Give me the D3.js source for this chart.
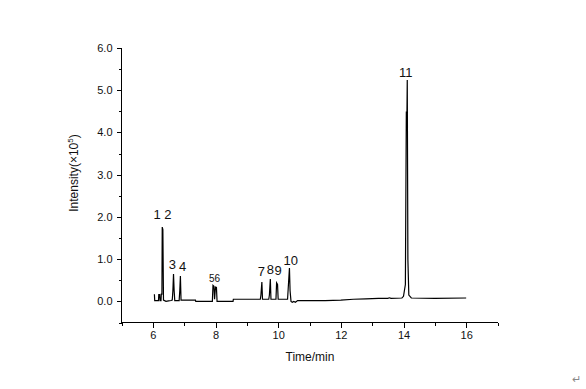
<!DOCTYPE html>
<html lang="en">
<head>
<meta charset="utf-8">
<title>chromatogram</title>
<script type="text/javascript" src="https://cdn.jsdelivr.net/npm/d3@7"></script>
<style type="text/css">
body{ margin:0; background:#fff; }
.axis path,
.axis line{
  stroke: #000;
  stroke-width: 1px;
  shape-rendering: crispEdges;
}
.axis text{
  font-family: "Liberation Sans", Arial, sans-serif;
  font-size: 11px;
  fill: #111;
}
.lbl{
  font-family: "Liberation Sans", Arial, sans-serif;
  fill: #111;
}
</style>
</head>
<body>
<script type="text/javascript">
var w = 586;
var h = 389;

// time (min), intensity (x10^5)
var trace = [
  [6.05, 0.17], [6.06, 0.02], [6.18, 0.02], [6.19, 0.16], [6.22, 0.16], [6.23, 0.02],
  [6.26, 0.02], [6.27, 0.17], [6.29, 0.17], [6.30, 1.76], [6.32, 1.70], [6.34, 0.03],
  [6.42, 0.0], [6.50, 0.01], [6.58, 0.02], [6.62, 0.03], [6.64, 0.25], [6.66, 0.65],
  [6.68, 0.25], [6.70, 0.02], [6.84, 0.02], [6.86, 0.25], [6.88, 0.60], [6.90, 0.03],
  [7.36, 0.03], [7.37, 0.0], [7.90, 0.0], [7.92, 0.38], [7.95, 0.36], [7.97, 0.05],
  [8.00, 0.34], [8.03, 0.33], [8.05, 0.0], [8.56, 0.0], [8.57, 0.05], [9.43, 0.05],
  [9.45, 0.15], [9.48, 0.46], [9.50, 0.05], [9.70, 0.05], [9.72, 0.15], [9.75, 0.53],
  [9.77, 0.05], [9.93, 0.05], [9.95, 0.44], [9.98, 0.40], [10.00, 0.05], [10.30, 0.05],
  [10.32, 0.30], [10.36, 0.79], [10.38, 0.25], [10.41, 0.0], [10.45, -0.02], [10.50, 0.0],
  [10.55, -0.02], [10.62, 0.02], [11.50, 0.02], [12.00, 0.03], [12.40, 0.05], [12.80, 0.06],
  [13.20, 0.07], [13.50, 0.07], [13.55, 0.085], [13.60, 0.07], [13.95, 0.08], [14.00, 0.12],
  [14.06, 0.40], [14.09, 4.48], [14.11, 4.48], [14.12, 5.24], [14.14, 1.00], [14.17, 0.15],
  [14.25, 0.08], [15.00, 0.07], [16.00, 0.08]
];

var peakNames = ["1 2", "3", "4", "56", "7", "8", "9", "10", "11"];
var peakTimes = [6.31, 6.62, 6.95, 7.97, 9.46, 9.75, 10.0, 10.40, 14.07];
var peakHeights = [1.95, 0.77, 0.72, 0.47, 0.59, 0.66, 0.62, 0.85, 5.32];

var xTicks = [5, 6, 7, 8, 9, 10, 11, 12, 13, 14, 15, 16, 17];
var yTicks = [-0.5, 0, 0.5, 1, 1.5, 2, 2.5, 3, 3.5, 4, 4.5, 5, 5.5, 6];

var xScale = d3.scaleLinear().domain([5, 17]).range([121.5, 497.5]);
var yScale = d3.scaleLinear().domain([-0.5, 6]).range([322.5, 48]);

var svg = d3.select("body")
            .append("svg")
            .attr("width", w)
            .attr("height", h);

svg.append("rect").attr("width", w).attr("height", h).attr("fill", "#fff");

// x axis
var xAxis = d3.axisBottom(xScale)
              .tickValues(xTicks)
              .tickSize(5)
              .tickPadding(4)
              .tickFormat(function(d){ return d % 2 === 0 ? d : ""; });
var gx = svg.append("g")
   .attr("class", "axis")
   .attr("transform", "translate(0," + yScale(-0.5) + ")")
   .call(xAxis);
gx.select(".domain").attr("d", "M" + xScale(5) + ",0H" + xScale(17));
gx.selectAll(".tick line").attr("y2", function(d){ return d % 2 === 0 ? 5 : 3; });

// y axis
var yAxis = d3.axisLeft(yScale)
              .tickValues(yTicks)
              .tickSize(5)
              .tickPadding(4)
              .tickFormat(function(d){ return Number.isInteger(d) ? d.toFixed(1) : ""; });
var gy = svg.append("g")
   .attr("class", "axis")
   .attr("transform", "translate(" + xScale(5) + ",0)")
   .call(yAxis);
gy.select(".domain").attr("d", "M0," + yScale(-0.5) + "V" + yScale(6));
gy.selectAll(".tick line").attr("x2", function(d){ return Number.isInteger(d) ? -5 : -3; });

// trace
var line = d3.line()
             .x(function(d){ return xScale(d[0]); })
             .y(function(d){ return yScale(d[1]); });
svg.append("path")
   .datum(trace)
   .attr("d", line)
   .attr("fill", "none")
   .attr("stroke", "#000")
   .attr("stroke-width", 1.2);

// peak labels
svg.selectAll("text.peak")
   .data(peakNames)
   .enter()
   .append("text")
   .attr("class", "lbl peak")
   .attr("x", function(d, i){ return xScale(peakTimes[i]); })
   .attr("y", function(d, i){ return yScale(peakHeights[i]); })
   .attr("text-anchor", "middle")
   .attr("font-size", function(d){ return d === "56" ? "10px" : "13px"; })
   .text(function(d){ return d; });

// axis titles
svg.append("text")
   .attr("class", "lbl")
   .attr("x", 310)
   .attr("y", 361)
   .attr("text-anchor", "middle")
   .attr("font-size", "12px")
   .text("Time/min");

var yt = svg.append("text")
   .attr("class", "lbl")
   .attr("transform", "translate(78,173) rotate(-90)")
   .attr("text-anchor", "middle")
   .attr("font-size", "12px");
yt.append("tspan").text("Intensity(\u00d710");
yt.append("tspan").attr("font-size", "8px").attr("dy", "-5").text("5");
yt.append("tspan").attr("dy", "5").text(")");

svg.append("text")
   .attr("x", 572)
   .attr("y", 383)
   .attr("font-size", "11px")
   .style("fill", "#888")
   .text("\u21b5");
</script>
</body>
</html>
